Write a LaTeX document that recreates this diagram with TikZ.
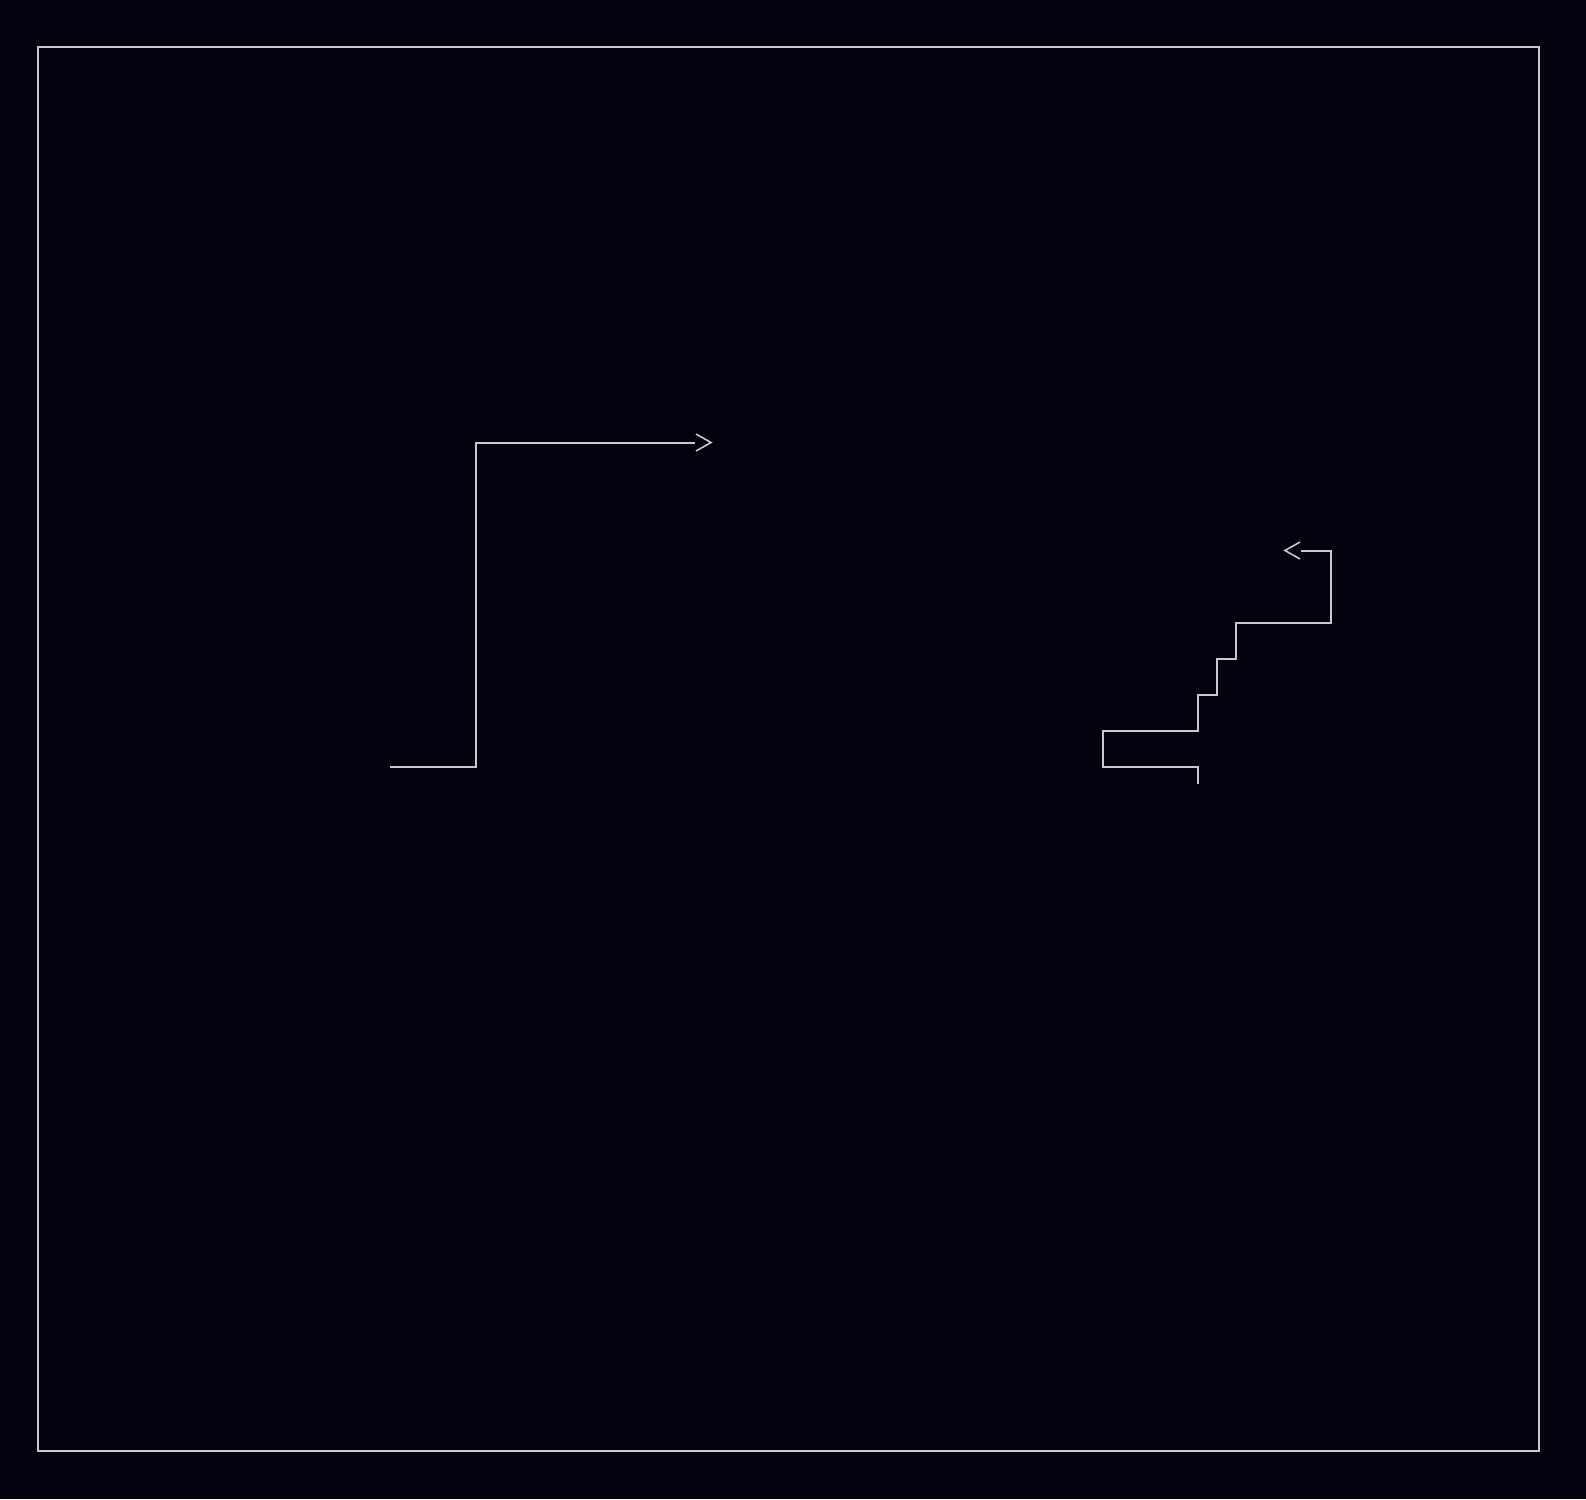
\documentclass[tikz,border=0pt]{standalone}
\usetikzlibrary{calc}
\definecolor{bgc}{RGB}{3,3,15}
\definecolor{linec}{RGB}{200,200,200}
\begin{document}
\begin{tikzpicture}[x=1pt,y=-1pt,
  wire/.style={draw=linec,line width=2pt,line join=miter},
  gapped/.style={wire,shorten >=16pt},
  chevron/.style={draw=linec,line width=1.6pt,line join=miter},
  frame/.style={draw=linec,line width=2pt}]
\fill[bgc] (0,0) rectangle (1586,1499);
\useasboundingbox (0,0) rectangle (1586,1499);
\draw[frame] (38,47) rectangle (1539,1451);
% left connector
\coordinate (a0) at (390,767);
\coordinate (a1) at (475.7,767);
\coordinate (a2) at (475.7,442.5);
\coordinate (a3) at (711,442.5);
\draw[gapped] (a0) -- (a1) -- (a2) -- (a3);
\draw[chevron] ($(a3)+(-15,-8.5)$) -- (a3) -- ($(a3)+(-15,8.5)$);
% right connector
\coordinate (b0) at (1197.7,783.5);
\coordinate (b1) at (1197.7,766.7);
\coordinate (b2) at (1102.7,766.7);
\coordinate (b3) at (1102.7,730.7);
\coordinate (b4) at (1197.7,730.7);
\coordinate (b5) at (1197.7,694.7);
\coordinate (b6) at (1216.7,694.7);
\coordinate (b7) at (1216.7,658.7);
\coordinate (b8) at (1235.7,658.7);
\coordinate (b9) at (1235.7,622.7);
\coordinate (b10) at (1330.7,622.7);
\coordinate (b11) at (1330.7,550.5);
\coordinate (b12) at (1285,550.5);
\draw[gapped] (b0) -- (b1) -- (b2) -- (b3) -- (b4) -- (b5) -- (b6) -- (b7) -- (b8) -- (b9) -- (b10) -- (b11) -- (b12);
\draw[chevron] ($(b12)+(15,-8.5)$) -- (b12) -- ($(b12)+(15,8.5)$);
\end{tikzpicture}
\end{document}
